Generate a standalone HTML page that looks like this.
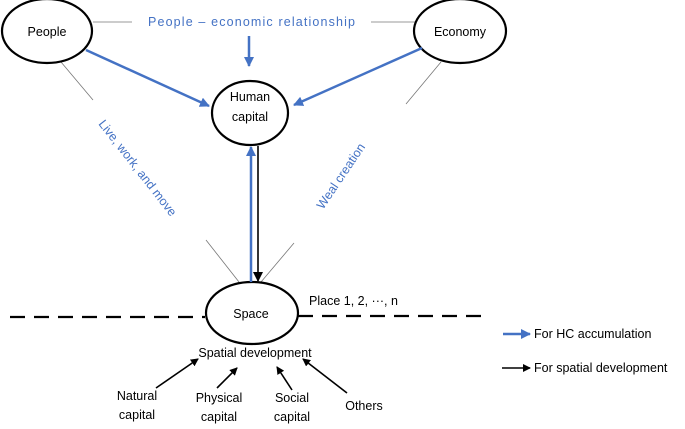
<!DOCTYPE html>
<html><head><meta charset="utf-8"><style>
html,body{margin:0;padding:0;background:#fff;}
svg text{font-family:"Liberation Sans",sans-serif;font-size:12.5px;}
</style></head><body>
<svg width="685" height="424" viewBox="0 0 685 424" xmlns="http://www.w3.org/2000/svg">
<defs>
<marker id="ab" markerWidth="8" markerHeight="8" refX="7" refY="4" orient="auto" markerUnits="userSpaceOnUse"><path d="M0,0 L8,4 L0,8 Z" fill="#4472C4"/></marker>
<marker id="ak" markerWidth="8" markerHeight="8" refX="7" refY="4" orient="auto" markerUnits="userSpaceOnUse"><path d="M0,0 L8,4 L0,8 Z" fill="#000"/></marker>
<marker id="abl" markerWidth="10" markerHeight="10" refX="9" refY="5" orient="auto" markerUnits="userSpaceOnUse"><path d="M0,0 L10,5 L0,10 Z" fill="#4472C4"/></marker>
<marker id="akl" markerWidth="10" markerHeight="10" refX="9" refY="5" orient="auto" markerUnits="userSpaceOnUse"><path d="M0,0 L10,5 L0,10 Z" fill="#000"/></marker>
</defs>
<g stroke="#777" stroke-width="0.8">
<line x1="93" y1="22" x2="132" y2="22"/><line x1="371" y1="22" x2="415" y2="22"/>
<line x1="61" y1="62" x2="93" y2="100"/><line x1="441" y1="62" x2="406" y2="104"/>
<line x1="206" y1="240" x2="239" y2="282"/><line x1="294" y1="243" x2="261" y2="282"/>
</g>
<g fill="none" stroke="#000" stroke-width="2.2">
<ellipse cx="47" cy="31" rx="45" ry="32"/>
<ellipse cx="460" cy="31" rx="46" ry="32"/>
<ellipse cx="250" cy="113" rx="38" ry="32"/>
<ellipse cx="252" cy="313" rx="46" ry="31"/>
</g>
<g stroke="#000" stroke-width="2.2" stroke-dasharray="15,9">
<line x1="10" y1="317" x2="205" y2="317"/><line x1="298" y1="316" x2="482" y2="316"/>
</g>
<g stroke="#4472C4" stroke-width="2.5" fill="none">
<line x1="249" y1="36" x2="249" y2="66" marker-end="url(#abl)"/>
<line x1="86" y1="50" x2="209" y2="106" marker-end="url(#abl)"/>
<line x1="422" y1="48" x2="294" y2="105" marker-end="url(#abl)"/>
<line x1="251" y1="282" x2="251" y2="147" marker-end="url(#abl)"/>
<line x1="503" y1="334" x2="530" y2="334" marker-end="url(#abl)"/>
</g>
<g stroke="#000" stroke-width="1.6" fill="none">
<line x1="258" y1="146" x2="258" y2="281" marker-end="url(#akl)"/>
<line x1="156" y1="388" x2="198" y2="359" marker-end="url(#ak)"/>
<line x1="217" y1="388" x2="237" y2="368" marker-end="url(#ak)"/>
<line x1="292" y1="390" x2="277" y2="367" marker-end="url(#ak)"/>
<line x1="347" y1="393" x2="303" y2="359" marker-end="url(#ak)"/>
<line x1="502" y1="368" x2="530" y2="368" marker-end="url(#ak)"/>
</g>
<g fill="#000" text-anchor="middle">
<text x="47" y="36">People</text>
<text x="460" y="36">Economy</text>
<text x="250" y="101">Human</text>
<text x="250" y="121">capital</text>
<text x="251" y="318">Space</text>
<text x="255" y="357">Spatial development</text>
<text x="137" y="400">Natural</text><text x="137" y="419">capital</text>
<text x="219" y="402">Physical</text><text x="219" y="421">capital</text>
<text x="292" y="402">Social</text><text x="292" y="421">capital</text>
<text x="364" y="410">Others</text>
</g>
<g fill="#000">
<text x="309" y="305">Place 1, 2, ···, n</text>
<text x="534" y="338">For HC accumulation</text>
<text x="534" y="372">For spatial development</text>
</g>
<g fill="#4472C4">
<text x="148" y="26" textLength="207">People  –  economic relationship</text>
<text transform="translate(98,124) rotate(52)">Live, work, and move</text>
<text transform="translate(323,210) rotate(-56)">Weal creation</text>
</g>
</svg>
</body></html>
